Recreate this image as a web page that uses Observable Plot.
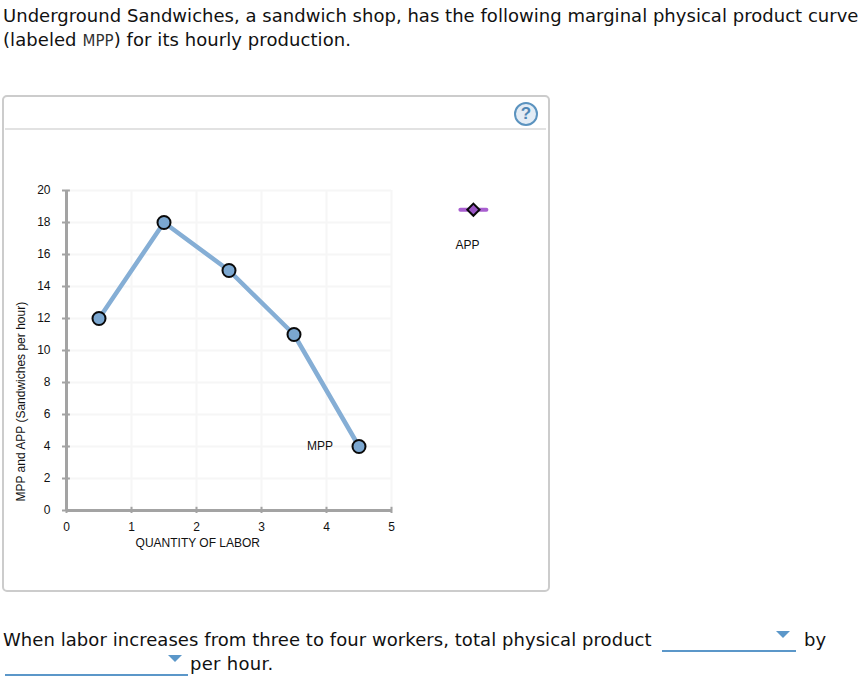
<!DOCTYPE html>
<html><head><meta charset="utf-8">
<script src="https://cdn.jsdelivr.net/npm/d3@7"></script>
<script src="https://cdn.jsdelivr.net/npm/@observablehq/plot@0.6"></script>
<style>
html,body{margin:0;padding:0;background:#fff;}
body{position:relative;width:864px;height:700px;overflow:hidden;font-family:"DejaVu Sans",sans-serif;font-size:18px;color:#111;}
.t{position:absolute;left:3px;white-space:nowrap;line-height:24px;}
.mono{font-size:15px;color:#333;font-weight:500;}
#panel{position:absolute;left:2px;top:95px;width:544px;height:493px;border:2px solid #ccc;border-radius:5px;}
#rule{position:absolute;left:5px;top:128px;width:541px;height:2px;background:#e2e2e2;}
#help{position:absolute;left:514px;top:102px;width:20px;height:20px;border:2px solid #5b93bf;border-radius:50%;background:#e3ecf5;color:#4f86b4;font:bold 17px/20px "Liberation Sans",sans-serif;text-align:center;}
#chart{position:absolute;left:0;top:95px;}
.dd{position:absolute;height:0;border-bottom:2px solid #5b97c9;}
.tri{position:absolute;width:0;height:0;border-left:7px solid transparent;border-right:7px solid transparent;border-top:7px solid #5b97c9;}
</style></head><body>
<div class="t" style="top:4px;letter-spacing:.03px">Underground Sandwiches, a sandwich shop, has the following marginal physical product curve</div>
<div class="t" style="top:28px;letter-spacing:.07px">(labeled <span class="mono">MPP</span>) for its hourly production.</div>
<div id="panel"></div><div id="rule"></div><div id="help">?</div>
<div id="chart"></div>
<div class="t" style="top:628px;letter-spacing:.06px">When labor increases from three to four workers, total physical product</div>
<div class="dd" style="left:662px;top:650px;width:134px"></div><div class="tri" style="left:776px;top:631px"></div>
<div class="t" style="top:628px;left:804px">by</div>
<div class="dd" style="left:5px;top:674px;width:183px"></div><div class="tri" style="left:168px;top:655px"></div>
<div class="t" style="top:652px;left:190px;letter-spacing:.3px">per hour.</div>
<script>
const labor = [0.5, 1.5, 2.5, 3.5, 4.5];
const mpp = [12, 18, 15, 11, 4];
const xTicks = [0, 1, 2, 3, 4, 5];
const yTicks = [0, 2, 4, 6, 8, 10, 12, 14, 16, 18, 20];
const xTitle = "QUANTITY OF LABOR";
const yTitle = "MPP and APP (Sandwiches per hour)";
const appSwatchX = [6.06, 6.46];
const appSwatchY = [18.8, 18.8];
const rows = labor.map((x, i) => ({x, y: mpp[i]}));
const axisGray = "#a3a3a3";
const plot = Plot.plot({
  width: 550, height: 495,
  marginLeft: 66, marginRight: 159, marginTop: 95, marginBottom: 80,
  style: {background: "transparent", fontFamily: "'Liberation Sans',Arial,sans-serif", fontSize: "12px", color: "#111", overflow: "visible"},
  x: {domain: [0, 5], ticks: xTicks},
  y: {domain: [0, 20], ticks: yTicks},
  marks: [
    Plot.gridX(xTicks.slice(1), {stroke: "#f6f6f6", strokeOpacity: 1, strokeWidth: 2}),
    Plot.gridY(yTicks.slice(1), {stroke: "#f6f6f6", strokeOpacity: 1, strokeWidth: 2}),
    Plot.axisX({ticks: xTicks, tickFormat: "d", tickSize: 3, tickPadding: 9, stroke: axisGray, strokeWidth: 2, label: null, fontSize: 12}),
    Plot.axisY({ticks: yTicks, tickFormat: "d", tickSize: 4, tickPadding: 12, stroke: axisGray, strokeWidth: 2, label: null, fontSize: 12}),
    Plot.ruleX(xTicks, {y1: 0, y2: 0.2, stroke: axisGray, strokeWidth: 2}),
    Plot.ruleY(yTicks, {x1: 0, x2: 0.06, stroke: axisGray, strokeWidth: 2}),
    Plot.ruleX([0], {stroke: axisGray, strokeWidth: 3}),
    Plot.ruleY([0], {stroke: axisGray, strokeWidth: 3}),
    Plot.line(rows, {x: "x", y: "y", stroke: "#85aed5", strokeWidth: 4.5, curve: "linear"}),
    Plot.dot(rows, {x: "x", y: "y", r: 6.5, fill: "#7ba7d0", stroke: "#0a0a0a", strokeWidth: 2}),
    Plot.text(["MPP"], {x: 3.9, y: 4, fontSize: 12, fill: "#111"}),
    Plot.text([xTitle], {x: 2.02, y: -2.06, fontSize: 12, fill: "#111"}),
    Plot.text([yTitle], {x: -0.69, y: 6.8, rotate: -90, fontSize: 12, fill: "#111"}),
    Plot.line(appSwatchX.map((x, i) => ({x, y: appSwatchY[i]})), {x: "x", y: "y", stroke: "#a95fd0", strokeWidth: 4}),
    Plot.dot([{x: 6.26, y: 18.8}], {x: "x", y: "y", symbol: "diamond2", r: 5.5, fill: "#9a55c4", stroke: "#0a0a0a", strokeWidth: 2}),
    Plot.text(["APP"], {x: 6.17, y: 16.6, fontSize: 12, fill: "#111"})
  ]
});
document.getElementById("chart").appendChild(plot);
</script>
</body></html>
